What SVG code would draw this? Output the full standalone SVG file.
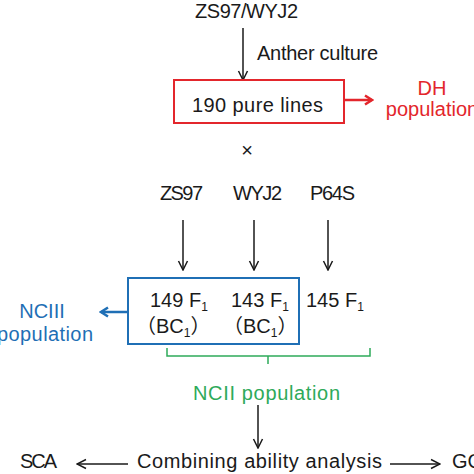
<svg xmlns="http://www.w3.org/2000/svg" width="474" height="474" viewBox="0 0 474 474">
<style>
text{font-family:"Liberation Sans","Noto Sans CJK SC",sans-serif;font-size:20px;fill:#1a1a1a}
.red{fill:#e3262c}.blue{fill:#1f6fb5}.green{fill:#2eaa5a}
.ln{stroke:#1a1a1a;stroke-width:1.5;fill:none}
.sub{font-size:12px}
</style>
<defs>
<marker id="ah" viewBox="0 0 12 12" refX="11" refY="6" markerWidth="12" markerHeight="12" markerUnits="userSpaceOnUse" orient="auto">
<polyline points="2,1.5 11,6 2,10.5" fill="none" stroke="#1a1a1a" stroke-width="1.5"/>
</marker>
<marker id="ahr" viewBox="0 0 12 12" refX="10" refY="6" markerWidth="12" markerHeight="12" markerUnits="userSpaceOnUse" orient="auto">
<polyline points="3,1.5 10,6 3,10.5" fill="none" stroke="#e3262c" stroke-width="2.5"/>
</marker>
<marker id="ahb" viewBox="0 0 12 12" refX="10" refY="6" markerWidth="12" markerHeight="12" markerUnits="userSpaceOnUse" orient="auto">
<polyline points="3,1.5 10,6 3,10.5" fill="none" stroke="#1f6fb5" stroke-width="2.5"/>
</marker>
</defs>

<g id="connectors">
<line class="ln" x1="243" y1="28" x2="243" y2="80" marker-end="url(#ah)"/>
<line x1="344" y1="100" x2="372" y2="100" stroke="#e3262c" stroke-width="2.5" marker-end="url(#ahr)"/>
<line class="ln" x1="183" y1="220" x2="183" y2="270" marker-end="url(#ah)"/>
<line class="ln" x1="254" y1="220" x2="254" y2="270" marker-end="url(#ah)"/>
<line class="ln" x1="328" y1="220" x2="328" y2="270" marker-end="url(#ah)"/>
<line x1="128" y1="312" x2="101" y2="312" stroke="#1f6fb5" stroke-width="2.5" marker-end="url(#ahb)"/>
<path d="M167,348 V356 H370 V348 M268,356 V364" fill="none" stroke="#2eaa5a" stroke-width="1.5"/>
<line class="ln" x1="258" y1="405" x2="258" y2="448" marker-end="url(#ah)"/>
<line class="ln" x1="128" y1="464" x2="77" y2="464" marker-end="url(#ah)"/>
<line class="ln" x1="390" y1="464" x2="440" y2="464" marker-end="url(#ah)"/>
</g>

<g id="parent"><text x="246.5" y="18" text-anchor="middle" textLength="103">ZS97/WYJ2</text></g>
<g id="anther"><text x="257" y="60" textLength="121">Anther culture</text></g>
<g id="pure-lines">
<rect x="174" y="80" width="170" height="43" fill="none" stroke="#e3262c" stroke-width="2"/>
<text x="192" y="112" textLength="131">190 pure lines</text>
</g>
<g id="dh">
<text class="red" x="432" y="95" text-anchor="middle">DH</text>
<text class="red" x="432" y="116" text-anchor="middle">population</text>
</g>
<g id="cross"><text x="247" y="157" text-anchor="middle" font-size="24">×</text></g>
<g id="zs97"><text x="160" y="200" textLength="43">ZS97</text></g>
<g id="wyj2"><text x="233" y="200" textLength="49">WYJ2</text></g>
<g id="p64s"><text x="310" y="200" textLength="45">P64S</text></g>
<g id="bc-box">
<rect x="128" y="278" width="171" height="66" fill="none" stroke="#1f6fb5" stroke-width="2"/>
<text x="150" y="307">149 F<tspan class="sub" dy="4">1</tspan></text>
<text x="231" y="307">143 F<tspan class="sub" dy="4">1</tspan></text>
<text x="136" y="333">（BC<tspan class="sub" dy="4">1</tspan><tspan dy="-4">）</tspan></text>
<text x="223" y="333">（BC<tspan class="sub" dy="4">1</tspan><tspan dy="-4">）</tspan></text>
</g>
<g id="f1-145"><text x="306" y="307">145 F<tspan class="sub" dy="4">1</tspan></text></g>
<g id="nciii">
<text class="blue" x="42" y="318" text-anchor="middle">NCIII</text>
<text class="blue" x="45" y="341" text-anchor="middle" textLength="96">population</text>
</g>
<g id="ncii"><text class="green" x="193" y="400" textLength="147">NCII population</text></g>
<g id="combining"><text x="137" y="468" textLength="245">Combining ability analysis</text></g>
<g id="sca"><text x="20" y="468" textLength="37">SCA</text></g>
<g id="gca"><text x="452" y="468">GCA</text></g>
</svg>
